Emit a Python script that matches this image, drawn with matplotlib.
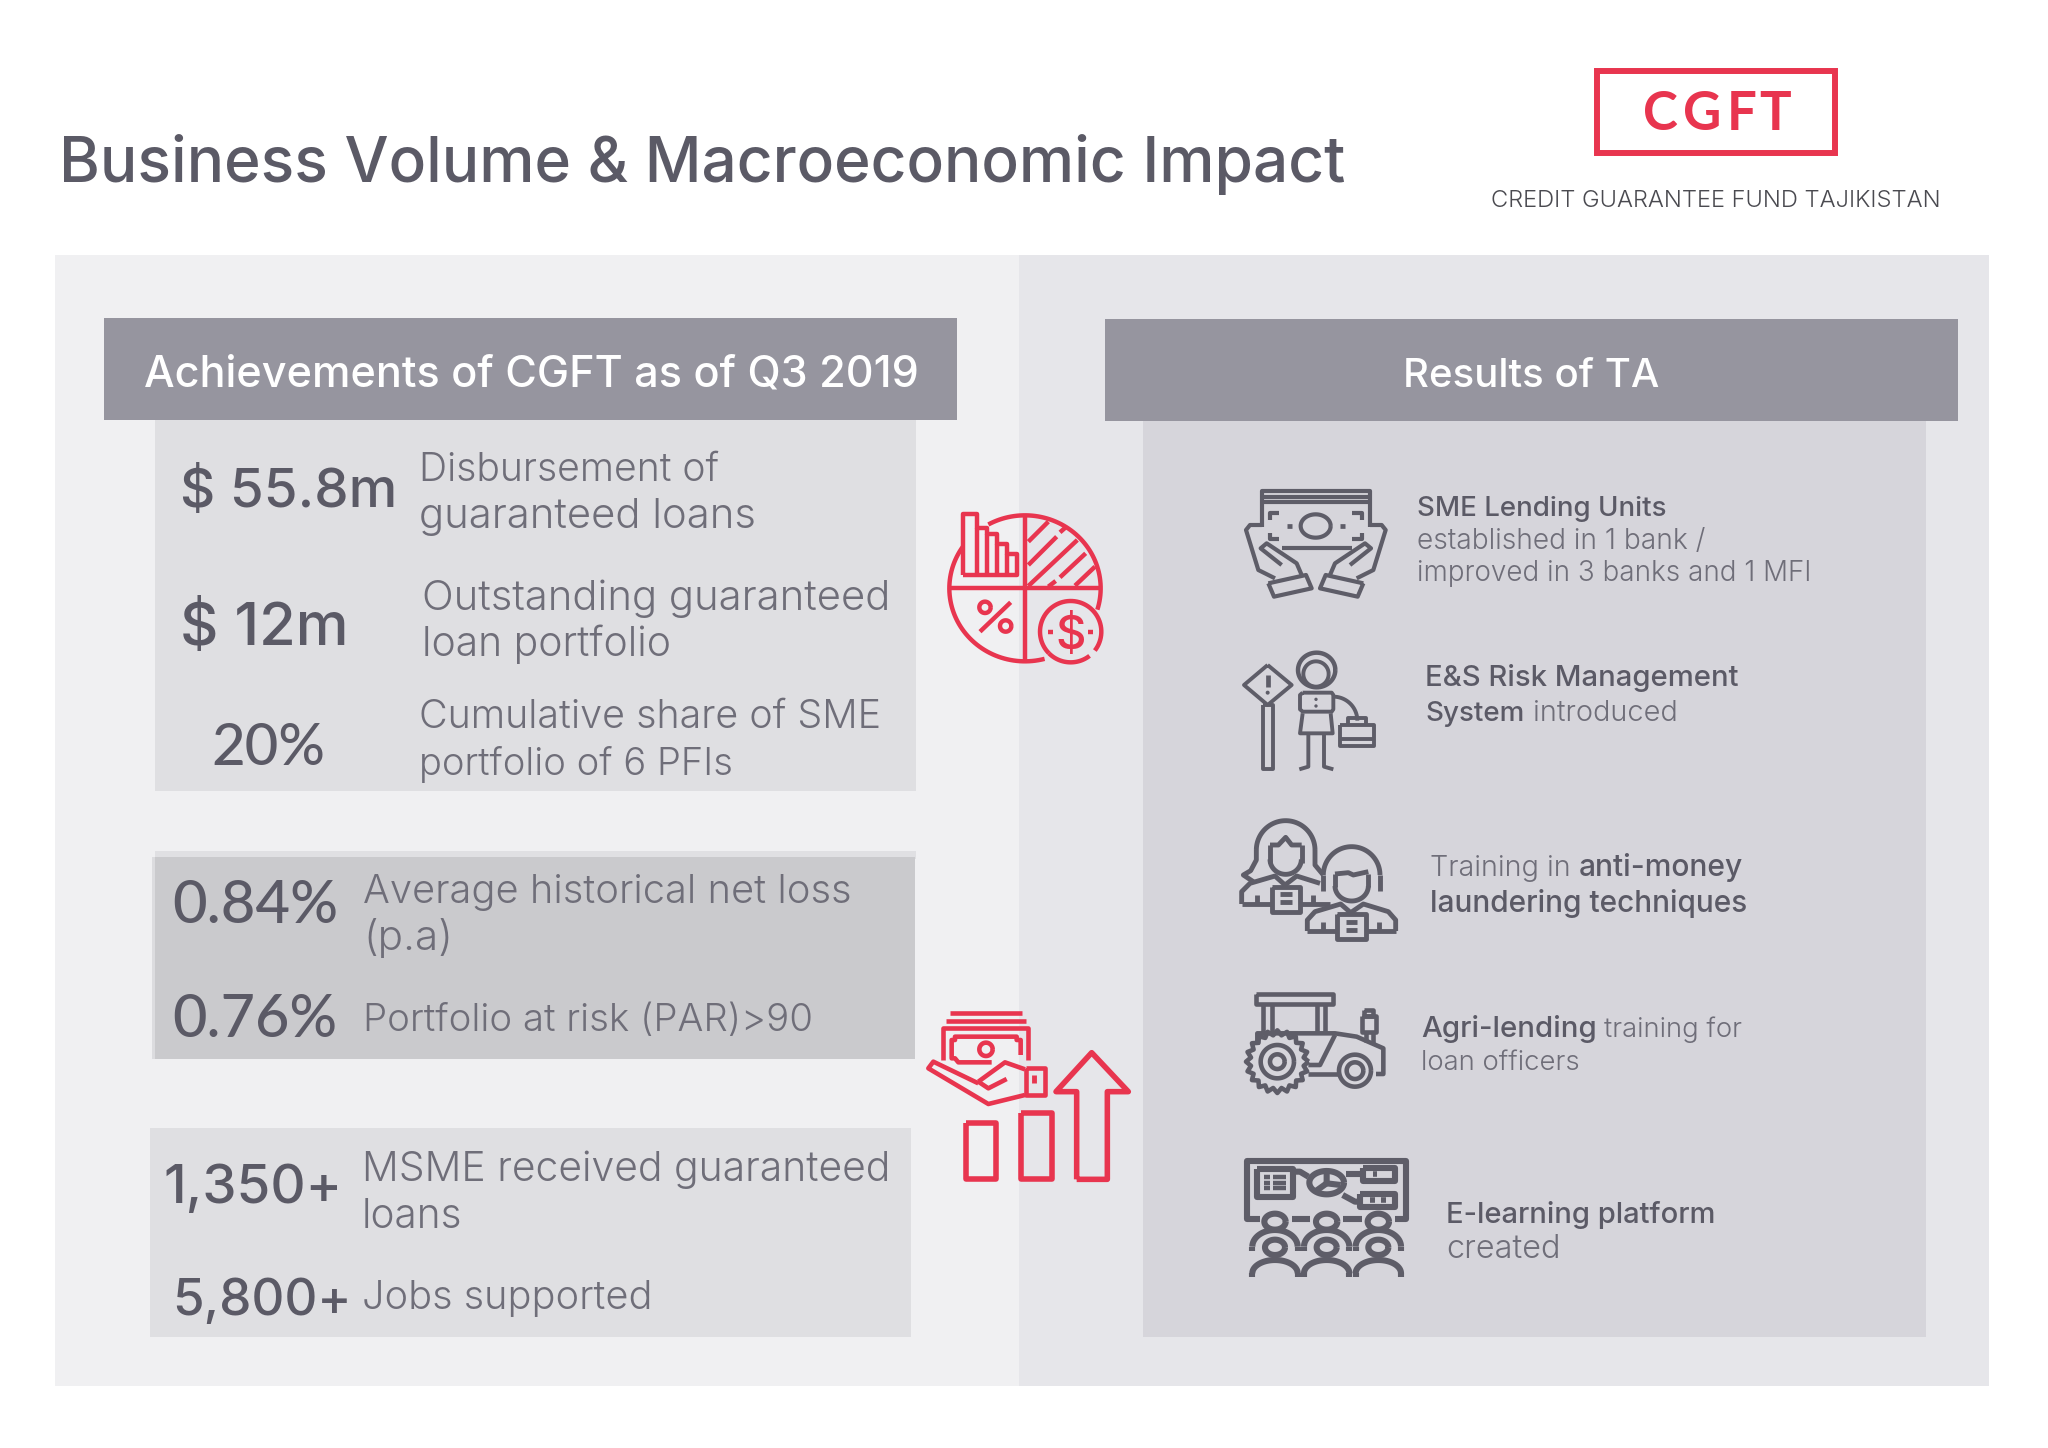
import numpy as np
import matplotlib
matplotlib.use("Agg")
import matplotlib.pyplot as plt
from matplotlib.patches import Rectangle, Circle

# text of the slide
title = "Business Volume & Macroeconomic Impact"
logo_text = "CGFT"
logo_sub = "CREDIT GUARANTEE FUND TAJIKISTAN"
header_left = "Achievements of CGFT as of Q3 2019"
header_right = "Results of TA"
left_figures = ["$ 55.8m", "$ 12m", "20%", "0.84%", "0.76%", "1,350+", "5,800+"]
left_labels = [
    "Disbursement of", "guaranteed loans",
    "Outstanding guaranteed", "loan portfolio",
    "Cumulative share of SME", "portfolio of 6 PFIs",
    "Average historical net loss", "(p.a)",
    "Portfolio at risk (PAR)>90",
    "MSME received guaranteed", "loans",
    "Jobs supported",
]
ta_bold = ["SME Lending Units", "E&S Risk Management", "System", "anti-money",
           "laundering techniques", "Agri-lending", "E-learning platform"]
ta_light = ["established in 1 bank /", "improved in 3 banks and 1 MFI", "introduced",
            "Training in", "training for", "loan officers", "created"]

RED = "#e8354f"
GREY = "#5e5d68"
DARK = "#5b5a66"
SOFT = "#6f6e79"
S = 2048 / 1568
FONT = "Inter"

fig = plt.figure(figsize=(20.48, 14.48), dpi=100, facecolor="white")
ax = fig.add_axes([0, 0, 1, 1])
ax.set_xlim(0, 2048)
ax.set_ylim(1448, 0)
ax.axis("off")
rend = fig.canvas.get_renderer()


def put(s, x0, x1, base, color=SOFT, weight="normal", family=FONT):
    t = ax.text(x0 * S, base * S, s, color=color, fontweight=weight, family=family,
                fontsize=20, va="baseline", ha="left", parse_math=False, zorder=5)
    w = t.get_window_extent(rend).width
    t.set_fontsize(20 * (x1 - x0) * S / w)
    return t


def box(x0, y0, x1, y1, color, z=1):
    ax.add_patch(Rectangle((x0, y0), x1 - x0, y1 - y0, fc=color, ec="none", zorder=z))


class Icon:
    # coordinates are the 3x zoom crops, o is the crop origin
    def __init__(self, ox, oy, color, lw):
        self.ox, self.oy, self.color, self.lw = ox, oy, color, lw

    def xy(self, pts):
        pts = np.array(pts, dtype=float)
        return pts[:, 0] / 3 + self.ox, pts[:, 1] / 3 + self.oy

    def line(self, *pts, close=False, lw=None):
        x, y = self.xy(list(pts) + ([pts[0]] if close else []))
        ax.plot(x, y, color=self.color, lw=lw or self.lw, solid_joinstyle="round",
                solid_capstyle="butt", zorder=6)

    def arc(self, cx, cy, rx, ry, a0, a1, lw=None):
        a = np.radians(np.linspace(a0, a1, 60))
        x, y = self.xy(np.c_[cx + rx * np.cos(a), cy - ry * np.sin(a)])
        ax.plot(x, y, color=self.color, lw=lw or self.lw, solid_capstyle="butt", zorder=6)

    def ring(self, cx, cy, rx, ry=None, lw=None):
        self.arc(cx, cy, rx, ry or rx, 0, 360, lw)

    def rect(self, x0, y0, x1, y1, lw=None):
        self.line((x0, y0), (x1, y0), (x1, y1), (x0, y1), close=True, lw=lw)

    def dot(self, x, y, r):
        x, y = x / 3 + self.ox, y / 3 + self.oy
        ax.add_patch(Circle((x, y), r / 3, fc=self.color, ec="none", zorder=6))


# panels
box(55, 255, 1019, 1386, "#f0f0f2")
box(1019, 255, 1989, 1386, "#e6e6ea")
box(155, 420, 916, 791, "#dfdfe2", 2)
box(155, 851, 916, 859, "#e0e0e3", 2)
box(152, 857, 155, 1059, "#dcdcdf", 2)
box(155, 857, 915, 1059, "#cacacd", 2)
box(150, 1128, 911, 1337, "#dfdfe2", 2)
box(1143, 420, 1926, 1337, "#d6d5db", 2)
box(104, 318, 957, 420, "#96959f", 3)
box(1105, 319, 1958, 421, "#96959f", 3)

# title and logo
put(title, 45, 1029, 139, DARK, 500)
ax.add_patch(Rectangle((1597, 71), 238, 82, fc="white", ec=RED, lw=4.3, zorder=3))
for letter, lx in zip(logo_text, (1643, 1683, 1727, 1759)):
    ax.text(lx, 130, letter, color=RED, family="Lato", fontweight="bold", fontsize=38,
            va="baseline", ha="left", zorder=5)
put(logo_sub, 1141.5, 1486, 158.5, "#4a4a50", 300)

# headers
put(header_left, 110, 703, 296, "white", 500)
put(header_right, 1074, 1270, 296, "white", 500)

# left column
put(left_figures[0], 138, 304, 388, DARK, 500)
put(left_labels[0], 321, 551, 368, SOFT, 300)
put(left_labels[1], 321, 580, 404, SOFT, 300)
put(left_figures[1], 138, 267, 494, DARK, 500)
put(left_labels[2], 323, 683, 467, SOFT, 300)
put(left_labels[3], 323, 514, 502, SOFT, 300)
put(left_figures[2], 162, 249, 586, DARK, 500, "Lato")
put(left_labels[4], 321, 676, 557, SOFT, 300)
put(left_labels[5], 321, 561, 593, SOFT, 300)
put(left_figures[3], 132, 259, 707, DARK, 500, "Lato")
put(left_labels[6], 278, 652, 691, SOFT, 300)
put(left_labels[7], 278, 347, 727, SOFT, 300)
put(left_figures[4], 132, 258, 794, DARK, 500, "Lato")
put(left_labels[8], 278, 622, 789, SOFT, 300)
put(left_figures[5], 125, 262, 921, DARK, 500)
put(left_labels[9], 277, 683, 904, SOFT, 300)
put(left_labels[10], 277, 354, 940, SOFT, 300)
put(left_figures[6], 132, 269, 1007, DARK, 500)
put(left_labels[11], 277, 499, 1002, SOFT, 300)

# right column
put(ta_bold[0], 1085, 1276, 395, DARK, 500)
put(ta_light[0], 1085, 1307, 420, SOFT, 300)
put(ta_light[1], 1085, 1387, 445, SOFT, 300)
put(ta_bold[1], 1091, 1331, 525, DARK, 500)
put(ta_bold[2], 1091, 1167, 552, DARK, 500)
put(ta_light[2], 1174, 1285, 552, SOFT, 300)
put(ta_light[3], 1095, 1203, 671, SOFT, 300)
put(ta_bold[3], 1209, 1335, 671, DARK, 500)
put(ta_bold[4], 1095, 1338, 698, DARK, 500)
put(ta_bold[5], 1088, 1222, 794, DARK, 500)
put(ta_light[4], 1228, 1334, 794, SOFT, 300)
put(ta_light[5], 1088, 1210, 819, SOFT, 300)
put(ta_bold[6], 1107, 1313, 936, DARK, 500)
put(ta_light[6], 1107, 1195, 963, SOFT, 300)

# pie icon
p = Icon(900, 480, RED, 3.2)
p.arc(375, 325, 227, 219, 119, -17)
p.arc(375, 325, 227, 219, 145, 285)
p.line((375, 105), (375, 548))
p.line((150, 325), (600, 325))
p.line((190, 285), (190, 103), (230, 103), (230, 143), (262, 143), (262, 163), (292, 163),
       (292, 192), (320, 192), (320, 222), (352, 222), (352, 285), close=True)
p.line((230, 143), (230, 285))
p.line((262, 163), (262, 285))
p.line((292, 192), (292, 285))
p.line((320, 222), (320, 285))
p.line((385, 185), (445, 125))
p.line((385, 255), (470, 170))
p.line((480, 157), (497, 142))
p.line((385, 318), (532, 180))
p.line((480, 292), (557, 220))
p.line((445, 320), (467, 303))
p.line((525, 317), (585, 260))
p.line((240, 455), (332, 367))
p.ring(255, 382, 17)
p.ring(317, 438, 17)
p.arc(512, 455, 92, 92, -38, 225)
p.arc(512, 455, 92, 92, 225, 308)
p.line((445, 455), (460, 455))
p.line((565, 455), (580, 455))
ax.text(512 / 3 + 900, 456 / 3 + 480, "$", color=RED, family=FONT, fontsize=34, fontweight=500,
        ha="center", va="center_baseline", parse_math=False, zorder=6)

# growth icon
g = Icon(900, 980, RED, 3.3)
g.line((150, 98), (367, 98))
g.line((138, 122), (378, 122))
g.line((130, 240), (130, 145), (385, 145), (385, 240))
g.line((275, 247), (175, 247), (165, 235), (155, 235), (155, 180), (165, 180), (165, 170),
       (350, 170), (350, 180), (362, 180), (362, 225))
g.ring(258, 208, 20)
g.line((235, 310), (100, 245), (85, 265), (265, 372), (375, 345))
g.line((235, 305), (315, 247), (375, 268))
g.line((235, 305), (265, 325), (320, 297))
g.rect(378, 265, 435, 345)
g.line((402, 285), (402, 310), lw=3.5)
g.rect(197, 428, 288, 598, lw=4)
g.rect(364, 400, 456, 598, lw=4)
g.line((530, 598), (530, 335), (468, 335), (575, 218), (685, 335), (622, 335), (622, 598), close=True, lw=4)

# money in hands
m = Icon(1220, 470, GREY, 3.0)
m.line((125, 170), (125, 62), (450, 62), (450, 170))
m.line((125, 80), (450, 80))
m.line((125, 97), (450, 97))
m.line((185, 235), (395, 235))
m.ring(287, 168, 45, 35)
m.line((200, 168), (216, 168), lw=3.4)
m.line((359, 168), (375, 168), lw=3.4)
m.line((178, 128), (150, 128), (150, 150))
m.line((397, 128), (425, 128), (425, 150))
m.line((150, 188), (150, 208), (178, 208))
m.line((397, 208), (425, 208), (425, 188))
for f in (lambda x: x, lambda x: 575 - x):
    m.line((f(125), 165), (f(90), 165), (f(78), 180), (f(115), 300), (f(165), 325))
    m.line((f(185), 285), (f(122), 235), (f(140), 220), (f(230), 280), (f(245), 315))
    m.line((f(145), 340), (f(258), 315), (f(275), 355), (f(162), 380), close=True)

# risk person
r = Icon(1220, 470, GREY, 2.8)
r.line((143, 585), (215, 645), (143, 705), (72, 645), close=True)
r.line((143, 615), (143, 652), lw=3.4)
r.dot(143, 668, 6)
r.rect(130, 705, 158, 898)
r.ring(288, 612, 38)
r.ring(290, 600, 56, 52, lw=3.2)
r.line((248, 668), (335, 668), (340, 675), (340, 718), (335, 725), (248, 725), (240, 718), (240, 675), close=True)
r.line((248, 730), (240, 790), (338, 790), (332, 730))
r.dot(288, 688, 5)
r.dot(288, 708, 5)
r.line((265, 795), (265, 890), (238, 898))
r.line((312, 795), (312, 890), (340, 898))
r.arc(340, 752, 72, 72, 90, 0)
r.rect(360, 765, 462, 828)
r.line((385, 765), (385, 743), (437, 743), (437, 765))
r.line((360, 806), (462, 806))

# two people with badges
w = Icon(1220, 800, GREY, 3.5)
w.arc(197, 150, 88, 88, 180, 0)
w.line((109, 150), (109, 180), (92, 212), (70, 225), (100, 245))
w.line((285, 150), (285, 195), (310, 225))
w.line((150, 135), (150, 190))
w.line((245, 135), (245, 190))
w.arc(197, 178, 47, 45, 180, 360)
w.line((150, 135), (175, 135), (197, 112), (215, 135), (245, 135))
w.line((65, 312), (65, 275), (90, 250), (165, 228), (195, 255), (230, 228), (300, 250))
w.line((65, 312), (155, 312))
w.line((240, 312), (330, 312))
w.line((112, 285), (112, 312))
w.line((280, 285), (280, 312))
w.rect(155, 260, 240, 335)
w.line((180, 283), (215, 283))
w.line((180, 305), (215, 305))
w.arc(395, 225, 85, 85, 180, 0)
w.line((310, 225), (310, 272))
w.line((480, 225), (480, 272))
w.line((345, 222), (345, 262))
w.line((445, 222), (445, 262))
w.arc(395, 258, 50, 45, 180, 360)
w.line((345, 222), (385, 218), (400, 225), (445, 215))
w.line((262, 393), (262, 360), (285, 335), (362, 312), (392, 338), (430, 312), (505, 335), (527, 360), (527, 393))
w.line((262, 393), (350, 393))
w.line((438, 393), (527, 393))
w.line((310, 365), (310, 393))
w.line((478, 365), (478, 393))
w.rect(352, 342, 438, 417)
w.line((378, 365), (412, 365))
w.line((378, 390), (412, 390))

# tractor
t = Icon(1220, 800, GREY, 3.3)
t.rect(108, 583, 338, 612)
for xp in (130, 155, 290, 315):
    t.line((xp, 612), (xp, 700))
t.line((112, 735), (112, 700), (345, 700), (410, 710), (490, 745), (490, 822), (468, 822))
t.line((355, 822), (265, 822))
t.line((345, 705), (300, 795), (265, 795))
tooth = np.radians(np.arange(0, 360, 9))
radii = np.where(np.arange(40) % 2 == 0, 94, 80)
t.line(*zip(172 + radii * np.cos(tooth), 785 + radii * np.sin(tooth)), close=True)
t.ring(172, 785, 50)
t.ring(172, 785, 22)
t.ring(405, 812, 48)
t.ring(405, 812, 25)
t.rect(425, 648, 468, 695)
t.rect(433, 630, 460, 648)
t.line((438, 695), (438, 725))
t.line((458, 695), (458, 733))

# e-learning
e = Icon(1220, 1130, GREY, 4.4)
e.line((120, 268), (82, 268), (82, 92), (558, 92), (558, 268), (525, 268))
e.line((215, 268), (270, 268))
e.line((368, 268), (425, 268))
e.rect(112, 117, 218, 200)
for yr in (140, 158, 175):
    e.line((132, yr), (150, yr), lw=3.2)
    e.line((158, yr), (198, yr), lw=3.2)
e.line((220, 125), (240, 125), (265, 140))
e.ring(320, 158, 52, 35)
e.line((320, 125), (320, 160), (362, 165))
e.line((320, 160), (285, 185))
e.line((378, 132), (428, 132))
e.rect(430, 115, 525, 152)
e.line((458, 133), (472, 133), lw=4)
e.line((368, 195), (405, 215), (420, 215))
e.rect(420, 192, 525, 230)
e.line((450, 210), (466, 210), lw=4)
e.line((482, 210), (498, 210), lw=4)
for cx in (165, 320, 475):
    e.ring(cx, 275, 32, 24)
    e.arc(cx, 350, 68, 50, 180, 0)
    e.line((cx - 68, 350), (cx - 68, 362))
    e.line((cx + 68, 350), (cx + 68, 362))
    e.ring(cx, 352, 30, 23)
    e.arc(cx, 430, 68, 40, 180, 0)
    e.line((cx - 68, 430), (cx - 68, 440))
    e.line((cx + 68, 430), (cx + 68, 440))

fig.savefig("out.png", dpi=100, facecolor="white")
